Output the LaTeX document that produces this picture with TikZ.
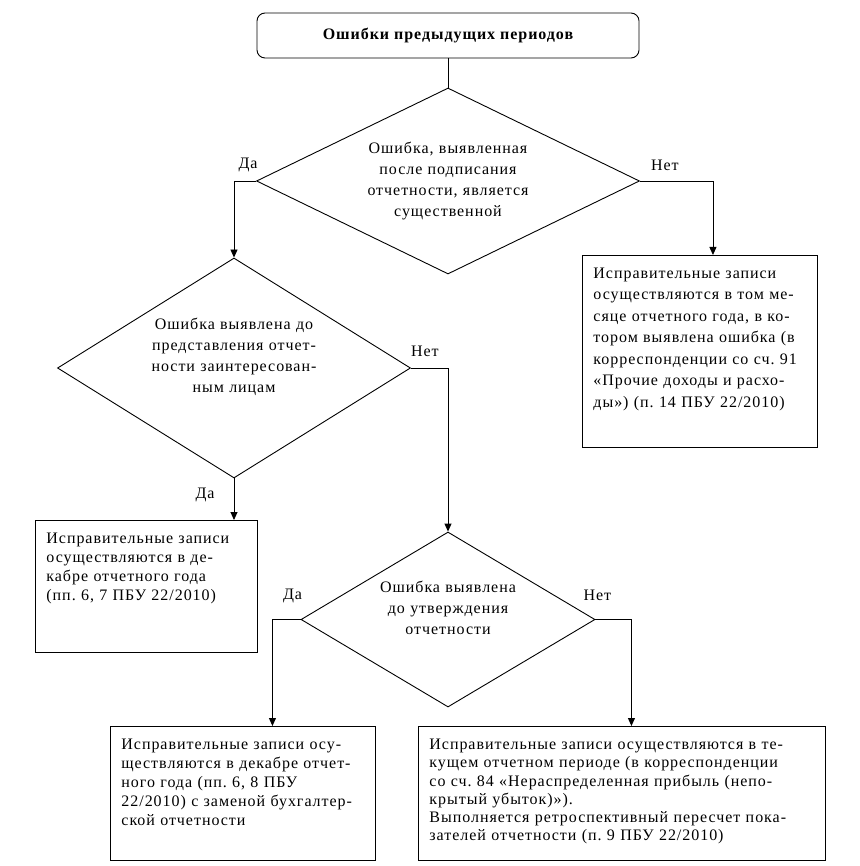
\documentclass[tikz,border=0pt]{standalone}
\usepackage{fontspec}
\setmainfont{Liberation Serif}[LetterSpace=6]
\usetikzlibrary{arrows.meta,calc,shapes.geometric}

\tikzset{
  decision/.style={draw, diamond, inner sep=0pt},
  dtext/.style={align=center, inner sep=0pt, font=\fontsize{16}{21}\selectfont},
  rec/.style={draw, anchor=north west, inner xsep=11pt, inner ysep=0pt, text height=23pt, align=left},
  lbl/.style={inner sep=0pt, font=\fontsize{16}{19}\selectfont},
  arr/.style={-{Triangle[length=8pt,width=7pt]}}
}

\begin{document}
\frenchspacing
\begin{tikzpicture}[x=1pt, y=-1pt, line width=0.9pt]
    \useasboundingbox (0,0) rectangle (859,866);
    % start
    \node[draw, rounded corners=8pt, minimum width=382pt, minimum height=45pt,
          font=\bfseries\fontsize{16}{19}\selectfont] (top) at (448,35.5) {Ошибки предыдущих периодов};
    % decisions
    \node[decision, minimum width=383pt, minimum height=186pt] (d1) at (448,181) {};
    \node[dtext, text width=175pt] (d1t) at (d1) {Ошибка, выявленная\\после подписания\\отчетности, является\\существенной};
    \node[decision, minimum width=353pt, minimum height=220pt] (d2) at (234,368) {};
    \node[dtext, text width=175pt] (d2t) at ($(d2)+(0,-11)$) {Ошибка выявлена до\\представления отчет-\\ности заинтересован-\\ным лицам};
    \node[decision, minimum width=294pt, minimum height=175pt] (d3) at (448,619.5) {};
    \node[dtext, text width=160pt] (d3t) at ($(d3)+(0,-12)$) {Ошибка выявлена\\до утверждения\\отчетности};
    % results
    \node[rec, text width=213pt, text depth=169pt, font=\fontsize{16}{21.5}\selectfont] (rbox) at (582,255)
        {Исправительные записи\\осуществляются в том ме-\\сяце отчетного года, в ко-\\тором выявлена ошибка (в\\корреспонденции со сч. 91\\«Прочие доходы и расхо-\\ды») (п. 14 ПБУ 22/2010)};
    \node[rec, text width=200pt, text depth=109pt, font=\fontsize{16}{19}\selectfont] (lbox) at (35,520)
        {Исправительные записи\\осуществляются в де-\\кабре отчетного года\\(пп. 6, 7 ПБУ 22/2010)};
    \node[rec, text width=243pt, text depth=111pt, font=\fontsize{16}{19}\selectfont] (blbox) at (110,726)
        {Исправительные записи осу-\\ществляются в декабре отчет-\\ного года (пп. 6, 8 ПБУ\\22/2010) с заменой бухгалтер-\\ской отчетности};
    \node[rec, text width=385pt, text depth=111pt, font=\fontsize{16}{18.3}\selectfont] (brbox) at (418,726)
        {Исправительные записи осуществляются в те-\\кущем отчетном периоде (в корреспонденции\\со сч. 84 «Нераспределенная прибыль (непо-\\крытый убыток)»).\\Выполняется ретроспективный пересчет пока-\\зателей отчетности (п. 9 ПБУ 22/2010)};
    % labels
    \node[lbl] (yes1) at ($(d1.west)+(-8,-16)$) {Да};
    \node[lbl] (no1) at ($(d1.east)+(25,-16)$) {Нет};
    \node[lbl] (no2) at ($(d2.east)+(14,-17)$) {Нет};
    \node[lbl] (yes2) at ($(d2.south)+(-29,17)$) {Да};
    \node[lbl] (yes3) at ($(d3.west)+(-8,-24)$) {Да};
    \node[lbl] (no3) at ($(d3.east)+(2,-24)$) {Нет};
    % connectors
    \draw (top) -- (d1);
    \draw[arr] (d1.west) -| (d2.north);
    \draw[arr] (d1.east) -| ([xshift=13pt]rbox.north);
    \draw[arr] (d2.south) -- (d2.south |- lbox.north);
    \draw[arr] (d2.east) -| (d3.north);
    \draw[arr] (d3.west) -| ([xshift=29.5pt]blbox.north);
    \draw[arr] (d3.east) -| ([xshift=9.5pt]brbox.north);
\end{tikzpicture}
\end{document}
